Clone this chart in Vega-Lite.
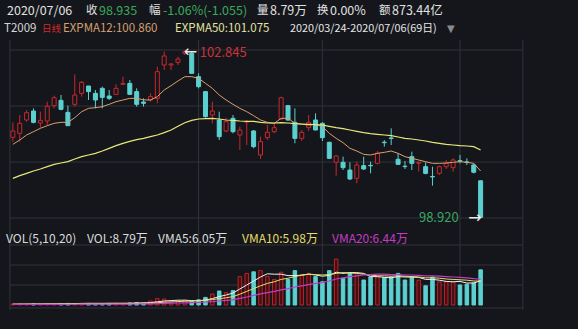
{
 "$schema": "https://vega.github.io/schema/vega-lite/v6.json",
 "width": 578, "height": 329, "autosize": "none", "padding": 0,
 "background": "#14161b",
 "config": {"view": {"stroke": null}, "font": "Noto Sans CJK SC", "text": {"font": "Noto Sans CJK SC"}},
 "datasets": {
  "k": [
   {"i":0,"o":100.805,"h":101.155,"l":100.703,"c":100.953,"v":0.25,"e12":100.641,"e50":99.847,"m5":0.2,"m10":0.2,"m20":0.15},
   {"i":1,"o":100.898,"h":101.327,"l":100.703,"c":101.132,"v":0.3,"e12":100.742,"e50":99.909,"m5":0.22,"m10":0.21,"m20":0.15},
   {"i":2,"o":101.21,"h":101.443,"l":101.171,"c":101.381,"v":0.2,"e12":100.859,"e50":99.964,"m5":0.24,"m10":0.22,"m20":0.16},
   {"i":3,"o":101.42,"h":101.482,"l":101.132,"c":101.155,"v":0.3,"e12":100.937,"e50":100.018,"m5":0.26,"m10":0.23,"m20":0.16},
   {"i":4,"o":101.14,"h":101.404,"l":101.031,"c":101.202,"v":0.25,"e12":101.015,"e50":100.065,"m5":0.26,"m10":0.24,"m20":0.17},
   {"i":5,"o":101.186,"h":101.638,"l":101.093,"c":101.529,"v":0.35,"e12":101.077,"e50":100.119,"m5":0.28,"m10":0.25,"m20":0.17},
   {"i":6,"o":101.545,"h":101.778,"l":101.482,"c":101.731,"v":0.3,"e12":101.132,"e50":100.174,"m5":0.28,"m10":0.26,"m20":0.18},
   {"i":7,"o":101.669,"h":101.794,"l":101.436,"c":101.459,"v":0.3,"e12":101.155,"e50":100.205,"m5":0.3,"m10":0.27,"m20":0.18},
   {"i":8,"o":101.389,"h":101.545,"l":101.077,"c":101.077,"v":0.4,"e12":101.155,"e50":100.236,"m5":0.32,"m10":0.28,"m20":0.19},
   {"i":9,"o":101.576,"h":102.277,"l":101.521,"c":101.794,"v":0.35,"e12":101.264,"e50":100.298,"m5":0.34,"m10":0.29,"m20":0.19},
   {"i":10,"o":101.833,"h":102.121,"l":101.755,"c":102.09,"v":0.3,"e12":101.404,"e50":100.353,"m5":0.4,"m10":0.3,"m20":0.2},
   {"i":11,"o":102.004,"h":102.004,"l":101.677,"c":101.872,"v":0.4,"e12":101.482,"e50":100.392,"m5":0.42,"m10":0.31,"m20":0.2},
   {"i":12,"o":101.833,"h":101.911,"l":101.482,"c":101.677,"v":0.35,"e12":101.498,"e50":100.431,"m5":0.42,"m10":0.32,"m20":0.21},
   {"i":13,"o":101.95,"h":101.989,"l":101.482,"c":101.739,"v":0.3,"e12":101.521,"e50":100.485,"m5":0.42,"m10":0.32,"m20":0.21},
   {"i":14,"o":101.77,"h":101.911,"l":101.677,"c":101.716,"v":0.4,"e12":101.576,"e50":100.548,"m5":0.43,"m10":0.33,"m20":0.22},
   {"i":15,"o":101.809,"h":102.043,"l":101.794,"c":101.95,"v":0.45,"e12":101.638,"e50":100.61,"m5":0.44,"m10":0.34,"m20":0.22},
   {"i":16,"o":102.043,"h":102.222,"l":102.027,"c":102.066,"v":0.4,"e12":101.677,"e50":100.665,"m5":0.44,"m10":0.35,"m20":0.23},
   {"i":17,"o":102.066,"h":102.144,"l":101.794,"c":101.809,"v":0.5,"e12":101.716,"e50":100.711,"m5":0.46,"m10":0.36,"m20":0.24},
   {"i":18,"o":101.872,"h":101.95,"l":101.521,"c":101.576,"v":0.6,"e12":101.716,"e50":100.75,"m5":0.5,"m10":0.38,"m20":0.25},
   {"i":19,"o":101.63,"h":101.716,"l":101.521,"c":101.6,"v":0.5,"e12":101.68,"e50":100.781,"m5":0.52,"m10":0.4,"m20":0.26},
   {"i":20,"o":101.677,"h":101.833,"l":101.638,"c":101.755,"v":1.0,"e12":101.677,"e50":100.82,"m5":0.6,"m10":0.45,"m20":0.3},
   {"i":21,"o":101.716,"h":102.456,"l":101.599,"c":102.339,"v":1.6,"e12":101.755,"e50":100.859,"m5":0.8,"m10":0.55,"m20":0.35},
   {"i":22,"o":102.495,"h":102.81,"l":102.378,"c":102.705,"v":1.5,"e12":101.911,"e50":100.914,"m5":1.0,"m10":0.7,"m20":0.4},
   {"i":23,"o":102.495,"h":102.534,"l":102.378,"c":102.518,"v":0.8,"e12":102.012,"e50":100.976,"m5":1.1,"m10":0.75,"m20":0.45},
   {"i":24,"o":102.557,"h":102.689,"l":102.495,"c":102.635,"v":1.0,"e12":102.121,"e50":101.062,"m5":1.2,"m10":0.85,"m20":0.5},
   {"i":25,"o":102.767,"h":102.845,"l":102.728,"c":102.806,"v":1.2,"e12":102.222,"e50":101.147,"m5":1.2,"m10":0.95,"m20":0.55},
   {"i":26,"o":102.767,"h":102.822,"l":102.3,"c":102.3,"v":0.9,"e12":102.222,"e50":101.202,"m5":1.1,"m10":1.0,"m20":0.6},
   {"i":27,"o":102.222,"h":102.3,"l":101.95,"c":101.989,"v":1.3,"e12":102.183,"e50":101.233,"m5":1.05,"m10":1.1,"m20":0.65},
   {"i":28,"o":101.872,"h":101.887,"l":101.264,"c":101.288,"v":1.9,"e12":102.066,"e50":101.241,"m5":1.25,"m10":1.2,"m20":0.75},
   {"i":29,"o":101.326,"h":101.638,"l":101.132,"c":101.42,"v":2.75,"e12":101.95,"e50":101.249,"m5":1.6,"m10":1.35,"m20":0.85},
   {"i":30,"o":101.21,"h":101.404,"l":100.742,"c":100.82,"v":3.5,"e12":101.794,"e50":101.233,"m5":2.1,"m10":1.6,"m20":1.0},
   {"i":31,"o":100.953,"h":101.264,"l":100.922,"c":101.171,"v":3.1,"e12":101.677,"e50":101.21,"m5":2.5,"m10":1.8,"m20":1.15},
   {"i":32,"o":101.249,"h":101.326,"l":100.898,"c":100.937,"v":3.6,"e12":101.576,"e50":101.202,"m5":3.0,"m10":2.1,"m20":1.3},
   {"i":33,"o":100.859,"h":101.054,"l":100.509,"c":100.976,"v":7.1,"e12":101.482,"e50":101.186,"m5":4.0,"m10":2.7,"m20":1.65},
   {"i":34,"o":101.16,"h":101.21,"l":100.626,"c":101.17,"v":7.9,"e12":101.404,"e50":101.178,"m5":5.0,"m10":3.4,"m20":2.0},
   {"i":35,"o":100.953,"h":100.976,"l":100.548,"c":100.587,"v":8.3,"e12":101.311,"e50":101.178,"m5":6.0,"m10":4.1,"m20":2.4},
   {"i":36,"o":100.392,"h":100.82,"l":100.299,"c":100.704,"v":8.6,"e12":101.21,"e50":101.155,"m5":7.0,"m10":4.8,"m20":2.8},
   {"i":37,"o":100.797,"h":101.093,"l":100.742,"c":100.922,"v":7.1,"e12":101.155,"e50":101.14,"m5":7.8,"m10":5.4,"m20":3.1},
   {"i":38,"o":100.937,"h":101.132,"l":100.898,"c":101.031,"v":6.4,"e12":101.132,"e50":101.14,"m5":7.7,"m10":5.8,"m20":3.4},
   {"i":39,"o":101.233,"h":101.755,"l":101.22,"c":101.731,"v":8.2,"e12":101.249,"e50":101.147,"m5":7.7,"m10":6.4,"m20":3.8},
   {"i":40,"o":101.545,"h":101.56,"l":101.186,"c":101.21,"v":6.4,"e12":101.249,"e50":101.14,"m5":7.35,"m10":6.7,"m20":4.1},
   {"i":41,"o":101.155,"h":101.482,"l":100.665,"c":100.781,"v":8.6,"e12":101.132,"e50":101.124,"m5":7.35,"m10":7.1,"m20":4.5},
   {"i":42,"o":100.781,"h":100.976,"l":100.719,"c":100.922,"v":7.5,"e12":101.108,"e50":101.116,"m5":7.45,"m10":7.5,"m20":4.8},
   {"i":43,"o":101.031,"h":101.326,"l":100.953,"c":101.155,"v":7.9,"e12":101.093,"e50":101.108,"m5":7.7,"m10":7.7,"m20":5.1},
   {"i":44,"o":101.21,"h":101.365,"l":100.97,"c":100.976,"v":7.1,"e12":101.108,"e50":101.101,"m5":7.5,"m10":7.6,"m20":5.4},
   {"i":45,"o":101.132,"h":101.155,"l":100.719,"c":100.797,"v":5.8,"e12":101.054,"e50":101.093,"m5":7.2,"m10":7.5,"m20":5.6},
   {"i":46,"o":100.688,"h":100.704,"l":100.299,"c":100.314,"v":8.6,"e12":100.898,"e50":101.062,"m5":7.4,"m10":7.6,"m20":6.0},
   {"i":47,"o":100.221,"h":100.392,"l":99.909,"c":100.369,"v":11.5,"e12":100.781,"e50":101.031,"m5":8.2,"m10":7.9,"m20":6.5},
   {"i":48,"o":100.221,"h":100.353,"l":100.041,"c":100.096,"v":6.7,"e12":100.68,"e50":101.007,"m5":7.9,"m10":8.1,"m20":6.8},
   {"i":49,"o":100.041,"h":100.221,"l":99.808,"c":99.831,"v":8.0,"e12":100.548,"e50":100.976,"m5":8.1,"m10":8.0,"m20":7.1},
   {"i":50,"o":99.847,"h":100.236,"l":99.73,"c":100.158,"v":7.5,"e12":100.485,"e50":100.945,"m5":8.1,"m10":7.9,"m20":7.3},
   {"i":51,"o":100.143,"h":100.353,"l":100.041,"c":100.065,"v":6.25,"e12":100.407,"e50":100.914,"m5":7.9,"m10":7.7,"m20":7.5},
   {"i":52,"o":100.15,"h":100.236,"l":99.964,"c":100.14,"v":7.0,"e12":100.392,"e50":100.89,"m5":7.1,"m10":7.5,"m20":7.6},
   {"i":53,"o":100.197,"h":100.486,"l":100.174,"c":100.431,"v":7.0,"e12":100.431,"e50":100.875,"m5":7.1,"m10":7.3,"m20":7.7},
   {"i":54,"o":100.69,"h":100.742,"l":100.587,"c":100.68,"v":6.8,"e12":100.454,"e50":100.859,"m5":6.9,"m10":7.3,"m20":7.7},
   {"i":55,"o":100.79,"h":101.015,"l":100.626,"c":100.78,"v":7.0,"e12":100.485,"e50":100.844,"m5":6.8,"m10":7.2,"m20":7.6},
   {"i":56,"o":100.291,"h":100.431,"l":100.159,"c":100.174,"v":7.9,"e12":100.431,"e50":100.812,"m5":7.1,"m10":7.3,"m20":7.6},
   {"i":57,"o":100.13,"h":100.252,"l":100.065,"c":100.12,"v":6.25,"e12":100.353,"e50":100.781,"m5":7.0,"m10":7.2,"m20":7.5},
   {"i":58,"o":100.353,"h":100.47,"l":100.041,"c":100.197,"v":7.0,"e12":100.314,"e50":100.766,"m5":7.0,"m10":7.1,"m20":7.5},
   {"i":59,"o":100.2,"h":100.236,"l":100.003,"c":100.22,"v":6.2,"e12":100.275,"e50":100.742,"m5":6.9,"m10":7.0,"m20":7.4},
   {"i":60,"o":100.119,"h":100.221,"l":99.94,"c":99.963,"v":4.8,"e12":100.236,"e50":100.719,"m5":6.4,"m10":6.8,"m20":7.3},
   {"i":61,"o":99.89,"h":100.119,"l":99.675,"c":99.88,"v":7.0,"e12":100.197,"e50":100.688,"m5":6.4,"m10":6.8,"m20":7.3},
   {"i":62,"o":99.963,"h":100.143,"l":99.925,"c":100.119,"v":5.8,"e12":100.197,"e50":100.665,"m5":6.2,"m10":6.7,"m20":7.2},
   {"i":63,"o":100.119,"h":100.275,"l":100.065,"c":100.197,"v":5.8,"e12":100.205,"e50":100.641,"m5":5.9,"m10":6.5,"m20":7.1},
   {"i":64,"o":100.096,"h":100.314,"l":100.003,"c":100.275,"v":5.8,"e12":100.221,"e50":100.626,"m5":5.8,"m10":6.4,"m20":7.0},
   {"i":65,"o":100.26,"h":100.392,"l":100.197,"c":100.25,"v":5.0,"e12":100.236,"e50":100.61,"m5":5.9,"m10":6.3,"m20":6.9},
   {"i":66,"o":100.23,"h":100.314,"l":100.158,"c":100.22,"v":5.2,"e12":100.221,"e50":100.602,"m5":5.5,"m10":6.2,"m20":6.8},
   {"i":67,"o":100.158,"h":100.197,"l":99.963,"c":99.99,"v":5.5,"e12":100.197,"e50":100.587,"m5":5.5,"m10":6.0,"m20":6.6},
   {"i":68,"o":99.79,"h":99.8,"l":98.92,"c":98.935,"v":8.79,"e12":100.018,"e50":100.509,"m5":6.05,"m10":5.98,"m20":6.44}
  ],
  "pg": [{"p":98.92},{"p":100.228},{"p":101.537},{"p":102.845}],
  "vg": [{"v":-0.75},{"v":5},{"v":10},{"v":15}],
  "xg": [{"i":-0.428571},{"i":27},{"i":45},{"i":65},{"i":74.142857}]
 },
 "resolve": {"scale": {"y": "independent"}},
 "layer": [
  {
   "data": {"name": "k"},
   "layer": [
    {
     "data": {"name": "xg"},
     "mark": {"type": "rule", "color": "#30333a", "strokeWidth": 1},
     "encoding": {
      "x": {"field": "i", "type": "quantitative", "scale": {"domain": [-1.142857, 81.428571], "nice": false, "zero": false}, "axis": null},
      "y": {"datum": 103.079, "type": "quantitative", "scale": {"domain": [96.3265, 104.0135], "nice": false, "zero": false}, "axis": null},
      "y2": {"datum": 96.771}
     }
    },
    {
     "data": {"name": "pg"},
     "mark": {"type": "rule", "color": "#30333a", "strokeWidth": 1},
     "encoding": {
      "y": {"field": "p", "type": "quantitative", "scale": {"domain": [96.3265, 104.0135], "nice": false, "zero": false},
            "axis": {"orient": "right", "offset": -51, "values": [100.228, 101.537, 102.845], "format": ".3f", "grid": false, "domain": false, "ticks": false, "tickSize": 0, "labelPadding": 5, "labelAlign": "left", "labelBaseline": "middle", "labelColor": "#c8c8c8", "labelFontSize": 12, "labelFont": "Noto Sans CJK SC", "title": null}},
      "x": {"datum": -0.428571, "type": "quantitative", "scale": {"domain": [-1.142857, 81.428571], "nice": false, "zero": false}, "axis": null},
      "x2": {"datum": 74.142857}
     }
    },
    {
     "mark": {"type": "rule", "strokeWidth": 1},
     "encoding": {
      "x": {"field": "i", "type": "quantitative", "scale": {"domain": [-1.142857, 81.428571], "nice": false, "zero": false}, "axis": null},
      "y": {"field": "l", "type": "quantitative", "scale": {"domain": [96.3265, 104.0135], "nice": false, "zero": false}, "axis": null},
      "y2": {"field": "h"},
      "color": {"condition": {"test": "datum.c >= datum.o", "value": "#c8282e"}, "value": "#5cd0d0"}
     }
    },
    {
     "mark": {"type": "bar", "width": 4, "strokeWidth": 1},
     "encoding": {
      "x": {"field": "i", "type": "quantitative", "scale": {"domain": [-1.142857, 81.428571], "nice": false, "zero": false}, "axis": null},
      "y": {"field": "o", "type": "quantitative", "scale": {"domain": [96.3265, 104.0135], "nice": false, "zero": false}, "axis": null},
      "y2": {"field": "c"},
      "fill": {"condition": {"test": "datum.c >= datum.o", "value": "#14161b"}, "value": "#5cd0d0"},
      "stroke": {"condition": {"test": "datum.c >= datum.o", "value": "#c8282e"}, "value": "#5cd0d0"}
     }
    },
    {
     "mark": {"type": "line", "color": "#d9a06c", "strokeWidth": 1},
     "encoding": {
      "x": {"field": "i", "type": "quantitative", "scale": {"domain": [-1.142857, 81.428571], "nice": false, "zero": false}, "axis": null},
      "y": {"field": "e12", "type": "quantitative", "scale": {"domain": [96.3265, 104.0135], "nice": false, "zero": false}, "axis": null}
     }
    },
    {
     "mark": {"type": "line", "color": "#e8e87a", "strokeWidth": 1.2},
     "encoding": {
      "x": {"field": "i", "type": "quantitative", "scale": {"domain": [-1.142857, 81.428571], "nice": false, "zero": false}, "axis": null},
      "y": {"field": "e50", "type": "quantitative", "scale": {"domain": [96.3265, 104.0135], "nice": false, "zero": false}, "axis": null}
     }
    },
    {
     "transform": [{"filter": "datum.i == 25"}],
     "mark": {"type": "text", "align": "left", "baseline": "middle", "dx": 15, "dy": 3, "fontSize": 13, "color": "#c8323a"},
     "encoding": {
      "x": {"field": "i", "type": "quantitative", "scale": {"domain": [-1.142857, 81.428571], "nice": false, "zero": false}, "axis": null},
      "y": {"field": "h", "type": "quantitative", "scale": {"domain": [96.3265, 104.0135], "nice": false, "zero": false}, "axis": null},
      "text": {"field": "h", "format": ".3f"}
     }
    },
    {
     "transform": [{"filter": "datum.i == 25"}],
     "mark": {"type": "text", "align": "left", "baseline": "middle", "dx": -1, "dy": 2, "fontSize": 16, "font": "DejaVu Sans", "color": "#e8e8e8", "text": "←"},
     "encoding": {
      "x": {"field": "i", "type": "quantitative", "scale": {"domain": [-1.142857, 81.428571], "nice": false, "zero": false}, "axis": null},
      "y": {"field": "h", "type": "quantitative", "scale": {"domain": [96.3265, 104.0135], "nice": false, "zero": false}, "axis": null}
     }
    },
    {
     "transform": [{"filter": "datum.i == 68"}],
     "mark": {"type": "text", "align": "right", "baseline": "middle", "dx": -22, "fontSize": 13, "color": "#3aa564"},
     "encoding": {
      "x": {"field": "i", "type": "quantitative", "scale": {"domain": [-1.142857, 81.428571], "nice": false, "zero": false}, "axis": null},
      "y": {"field": "l", "type": "quantitative", "scale": {"domain": [96.3265, 104.0135], "nice": false, "zero": false}, "axis": null},
      "text": {"field": "l", "format": ".3f"}
     }
    },
    {
     "transform": [{"filter": "datum.i == 68"}],
     "mark": {"type": "text", "align": "right", "baseline": "middle", "dx": 1, "fontSize": 16, "font": "DejaVu Sans", "color": "#e8e8e8", "text": "→"},
     "encoding": {
      "x": {"field": "i", "type": "quantitative", "scale": {"domain": [-1.142857, 81.428571], "nice": false, "zero": false}, "axis": null},
      "y": {"field": "l", "type": "quantitative", "scale": {"domain": [96.3265, 104.0135], "nice": false, "zero": false}, "axis": null}
     }
    }
   ]
  },
  {
   "data": {"name": "k"},
   "layer": [
    {
     "data": {"name": "vg"},
     "mark": {"type": "rule", "color": "#30333a", "strokeWidth": 1},
     "encoding": {
      "y": {"field": "v", "type": "quantitative", "scale": {"domain": [-6, 76.25], "nice": false, "zero": false},
            "axis": {"orient": "right", "offset": -51, "values": [5, 10, 15], "labelExpr": "datum.value + '万'", "grid": false, "domain": false, "ticks": false, "tickSize": 0, "labelPadding": 5, "labelAlign": "left", "labelBaseline": "middle", "labelColor": "#c8c8c8", "labelFontSize": 12, "labelFont": "Noto Sans CJK SC", "title": null}},
      "x": {"datum": -0.428571, "type": "quantitative", "scale": {"domain": [-1.142857, 81.428571], "nice": false, "zero": false}, "axis": null},
      "x2": {"datum": 74.142857}
     }
    },
    {
     "mark": {"type": "bar", "width": 3.5, "strokeWidth": 1},
     "encoding": {
      "x": {"field": "i", "type": "quantitative", "scale": {"domain": [-1.142857, 81.428571], "nice": false, "zero": false},
            "axis": {"orient": "bottom", "offset": -21, "values": [0, 27, 45, 65], "labelExpr": "datum.value == 0 ? '20.03' : datum.value == 27 ? '20.05' : datum.value == 45 ? '20.06' : '20.07'", "grid": false, "domain": false, "ticks": false, "tickSize": 0, "labelAlign": "left", "labelOffset": 2, "labelPadding": 4, "labelColor": "#c8c8c8", "labelFontSize": 12, "labelFont": "Noto Sans CJK SC", "title": null}},
      "y": {"field": "v", "type": "quantitative", "scale": {"domain": [-6, 76.25], "nice": false, "zero": false}, "axis": null},
      "y2": {"datum": 0},
      "fill": {"condition": {"test": "datum.c >= datum.o", "value": "#4a0e12"}, "value": "#5cd0d0"},
      "stroke": {"condition": {"test": "datum.c >= datum.o", "value": "#b8232a"}, "value": "#5cd0d0"}
     }
    },
    {
     "mark": {"type": "line", "color": "#f2f2f2", "strokeWidth": 1},
     "encoding": {
      "x": {"field": "i", "type": "quantitative", "scale": {"domain": [-1.142857, 81.428571], "nice": false, "zero": false}, "axis": null},
      "y": {"field": "m5", "type": "quantitative", "scale": {"domain": [-6, 76.25], "nice": false, "zero": false}, "axis": null}
     }
    },
    {
     "mark": {"type": "line", "color": "#e6e06a", "strokeWidth": 1},
     "encoding": {
      "x": {"field": "i", "type": "quantitative", "scale": {"domain": [-1.142857, 81.428571], "nice": false, "zero": false}, "axis": null},
      "y": {"field": "m10", "type": "quantitative", "scale": {"domain": [-6, 76.25], "nice": false, "zero": false}, "axis": null}
     }
    },
    {
     "mark": {"type": "line", "color": "#c03cc8", "strokeWidth": 1.2},
     "encoding": {
      "x": {"field": "i", "type": "quantitative", "scale": {"domain": [-1.142857, 81.428571], "nice": false, "zero": false}, "axis": null},
      "y": {"field": "m20", "type": "quantitative", "scale": {"domain": [-6, 76.25], "nice": false, "zero": false}, "axis": null}
     }
    }
   ]
  },
  {"data": {"values": [{"t": "2020/07/06"}]}, "mark": {"type": "text", "x": 7, "y": 11, "align": "left", "baseline": "middle", "fontSize": 12.5, "color": "#e0e0e0"}, "encoding": {"text": {"field": "t"}}},
  {"data": {"values": [{"t": "收"}]}, "mark": {"type": "text", "x": 86, "y": 11, "align": "left", "baseline": "middle", "fontSize": 11.5, "color": "#e0e0e0"}, "encoding": {"text": {"field": "t"}}},
  {"data": {"values": [{"t": "98.935"}]}, "mark": {"type": "text", "x": 99, "y": 11, "align": "left", "baseline": "middle", "fontSize": 12.5, "color": "#3aaa5e"}, "encoding": {"text": {"field": "t"}}},
  {"data": {"values": [{"t": "幅"}]}, "mark": {"type": "text", "x": 149, "y": 11, "align": "left", "baseline": "middle", "fontSize": 11.5, "color": "#e0e0e0"}, "encoding": {"text": {"field": "t"}}},
  {"data": {"values": [{"t": "-1.06%(-1.055)"}]}, "mark": {"type": "text", "x": 163, "y": 11, "align": "left", "baseline": "middle", "fontSize": 12.5, "color": "#3aaa5e"}, "encoding": {"text": {"field": "t"}}},
  {"data": {"values": [{"t": "量"}]}, "mark": {"type": "text", "x": 257, "y": 11, "align": "left", "baseline": "middle", "fontSize": 11.5, "color": "#e0e0e0"}, "encoding": {"text": {"field": "t"}}},
  {"data": {"values": [{"t": "8.79万"}]}, "mark": {"type": "text", "x": 270, "y": 11, "align": "left", "baseline": "middle", "fontSize": 12.5, "color": "#e0e0e0"}, "encoding": {"text": {"field": "t"}}},
  {"data": {"values": [{"t": "换"}]}, "mark": {"type": "text", "x": 317, "y": 11, "align": "left", "baseline": "middle", "fontSize": 11.5, "color": "#e0e0e0"}, "encoding": {"text": {"field": "t"}}},
  {"data": {"values": [{"t": "0.00%"}]}, "mark": {"type": "text", "x": 330, "y": 11, "align": "left", "baseline": "middle", "fontSize": 12.5, "color": "#e0e0e0"}, "encoding": {"text": {"field": "t"}}},
  {"data": {"values": [{"t": "额"}]}, "mark": {"type": "text", "x": 379, "y": 11, "align": "left", "baseline": "middle", "fontSize": 11.5, "color": "#e0e0e0"}, "encoding": {"text": {"field": "t"}}},
  {"data": {"values": [{"t": "873.44亿"}]}, "mark": {"type": "text", "x": 392, "y": 11, "align": "left", "baseline": "middle", "fontSize": 12.5, "color": "#e0e0e0"}, "encoding": {"text": {"field": "t"}}},
  {"data": {"values": [{"t": "T2009"}]}, "mark": {"type": "text", "x": 4, "y": 29, "align": "left", "baseline": "middle", "fontSize": 11.5, "color": "#d6d6d6"}, "encoding": {"text": {"field": "t"}}},
  {"data": {"values": [{"t": "日线"}]}, "mark": {"type": "text", "x": 42, "y": 29, "align": "left", "baseline": "middle", "fontSize": 9.5, "color": "#d42a2a"}, "encoding": {"text": {"field": "t"}}},
  {"data": {"values": [{"t": "EXPMA12:100.860"}]}, "mark": {"type": "text", "x": 63, "y": 29, "align": "left", "baseline": "middle", "fontSize": 11.5, "color": "#d4a070"}, "encoding": {"text": {"field": "t"}}},
  {"data": {"values": [{"t": "EXPMA50:101.075"}]}, "mark": {"type": "text", "x": 175, "y": 29, "align": "left", "baseline": "middle", "fontSize": 11.5, "color": "#e4e4a0"}, "encoding": {"text": {"field": "t"}}},
  {"data": {"values": [{"t": "2020/03/24-2020/07/06(69日)"}]}, "mark": {"type": "text", "x": 290, "y": 29, "align": "left", "baseline": "middle", "fontSize": 10.8, "color": "#e6e6e6"}, "encoding": {"text": {"field": "t"}}},
  {"data": {"values": [{"t": "▼"}]}, "mark": {"type": "text", "x": 447, "y": 29, "align": "left", "baseline": "middle", "fontSize": 10, "font": "DejaVu Sans", "color": "#8a8a8a"}, "encoding": {"text": {"field": "t"}}},
  {"data": {"values": [{"t": "VOL(5,10,20)"}]}, "mark": {"type": "text", "x": 6, "y": 239, "align": "left", "baseline": "middle", "fontSize": 12, "color": "#dcdcdc"}, "encoding": {"text": {"field": "t"}}},
  {"data": {"values": [{"t": "VOL:8.79万"}]}, "mark": {"type": "text", "x": 87, "y": 239, "align": "left", "baseline": "middle", "fontSize": 12, "color": "#dcdcdc"}, "encoding": {"text": {"field": "t"}}},
  {"data": {"values": [{"t": "VMA5:6.05万"}]}, "mark": {"type": "text", "x": 158, "y": 239, "align": "left", "baseline": "middle", "fontSize": 12, "color": "#dcdcdc"}, "encoding": {"text": {"field": "t"}}},
  {"data": {"values": [{"t": "VMA10:5.98万"}]}, "mark": {"type": "text", "x": 242, "y": 239, "align": "left", "baseline": "middle", "fontSize": 12, "color": "#e6dc6a"}, "encoding": {"text": {"field": "t"}}},
  {"data": {"values": [{"t": "VMA20:6.44万"}]}, "mark": {"type": "text", "x": 332, "y": 239, "align": "left", "baseline": "middle", "fontSize": 12, "color": "#c43cc4"}, "encoding": {"text": {"field": "t"}}}
 ]
}
